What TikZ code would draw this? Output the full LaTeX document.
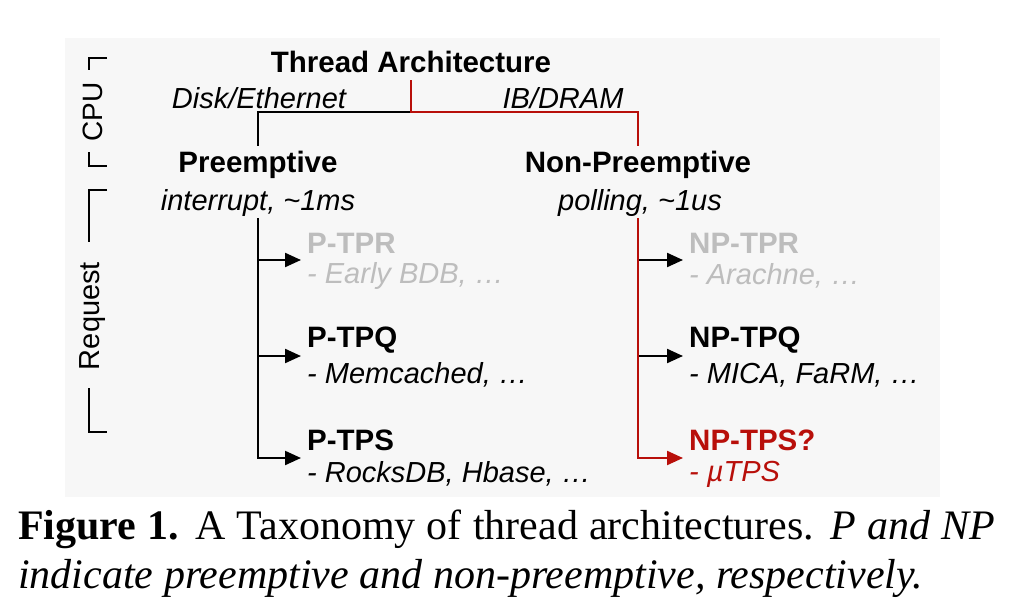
\documentclass[tikz,border=0pt]{standalone}
\usepackage{fontspec}
\setmainfont{Liberation Serif}
\setsansfont{Liberation Sans}
\usetikzlibrary{arrows.meta}
\definecolor{dred}{HTML}{B80F0A}
\definecolor{lgray}{HTML}{BDBDBD}
\definecolor{bg}{HTML}{F7F7F7}
\begin{document}
\begin{tikzpicture}[x=1pt,y=-1pt,
  hd/.style={font=\sffamily\bfseries\fontsize{29.5}{32}\selectfont},
  it/.style={font=\sffamily\itshape\fontsize{29}{32}\selectfont},
  ln/.style={line width=2.2pt},
  ar/.style={line width=2.2pt,-{Triangle[length=16pt,width=14pt]}},
  lt/.style={anchor=west,inner sep=0pt}]
\useasboundingbox (0,0) rectangle (1013,600);
\fill[bg] (65,38) rectangle (940,497);
\node[hd] (ta) at (411,62) {Thread Architecture};
\node[it] (de) at (259,98) {Disk/Ethernet};
\node[it] (ib) at (563,98) {IB/DRAM};
\node[hd] (pr) at (258,165) {Preemptive};
\node[it] (pri) at (258,203) {interrupt, \textasciitilde1ms};
\node[hd] (np) at (638,165) {Non-Preemptive};
\node[it] (npi) at (640,203) {polling, \textasciitilde1us};
\coordinate (j) at (411,112);
\draw[ln] (j) -| (258,146);
\draw[ln,dred] (411,80) -- (j) -| (638,146);
% left branch
\node[hd,lt,lgray] (ptpr) at (307,243) {P-TPR};
\node[it,lt,lgray] (ptprd) at (307,276) {- Early BDB, \dots};
\node[hd,lt] (ptpq) at (307,340) {P-TPQ};
\node[it,lt] (ptpqd) at (307,375) {- Memcached, \dots};
\node[hd,lt] (ptps) at (307,440) {P-TPS};
\node[it,lt] (ptpsd) at (307,474) {- RocksDB, Hbase, \dots};
\draw[ln] (258,218) -- (258,459);
\draw[ar] (257,260) -- (301,260);
\draw[ar] (257,356) -- (301,356);
\draw[ar] (257,458) -- (301,458);
% right branch
\node[hd,lt,lgray] (nptpr) at (689,243) {NP-TPR};
\node[it,lt,lgray] (nptprd) at (689,276) {- Arachne, \dots};
\node[hd,lt] (nptpq) at (689,340) {NP-TPQ};
\node[it,lt] (nptpqd) at (689,375) {- MICA, FaRM, \dots};
\node[hd,lt,dred] (nptps) at (689,440) {NP-TPS?};
\node[it,lt,dred] (nptpsd) at (689,474) {- µTPS};
\draw[ar] (638,260) -- (683,260);
\draw[ar] (638,356) -- (683,356);
\draw[ar,dred] (638,218) -- (638,458) -- (683,458);
% side brackets
\draw[line width=2.5pt] (107,58) -- (89,58) -- (89,70);
\node[font=\sffamily\fontsize{28}{30}\selectfont,rotate=90] (cpu) at (93,112) {CPU};
\draw[line width=2.5pt] (89,152) -- (89,166) -- (107,166);
\draw[line width=2.5pt] (107,190) -- (89,190) -- (89,242);
\node[font=\sffamily\fontsize{29}{30}\selectfont,rotate=90] (req) at (93,316) {Request};
\draw[line width=2.5pt] (89,388) -- (89,432) -- (107,432);
% caption
\node[lt,font=\fontsize{42}{44}\selectfont] (cap1) at (18,529) {\makebox[977pt][s]{\textbf{Figure 1.} A Taxonomy of thread architectures. \textit{P and NP}}};
\node[lt,font=\itshape\fontsize{42}{44}\selectfont] (cap2) at (18,578) {indicate preemptive and non-preemptive, respectively.};
\end{tikzpicture}
\end{document}
